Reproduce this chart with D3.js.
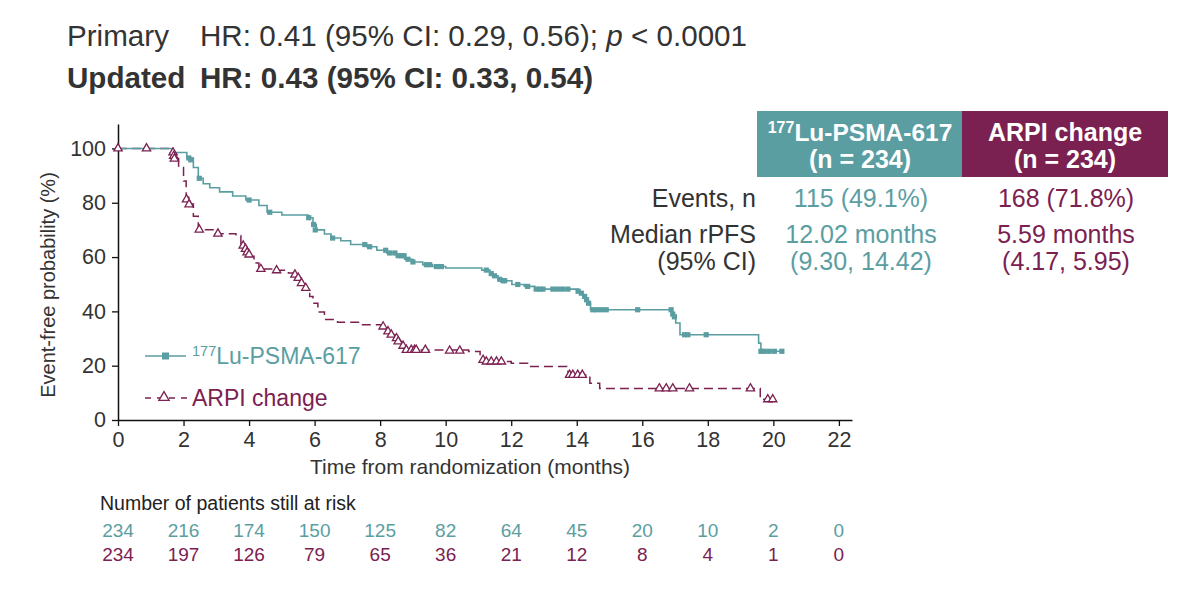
<!DOCTYPE html>
<html><head><meta charset="utf-8">
<script src="https://cdn.jsdelivr.net/npm/d3@7"></script>
<style>body{margin:0;background:#fff}svg{display:block;font-family:"Liberation Sans",Arial,sans-serif}</style>
</head><body><svg id="c" width="1200" height="590"></svg>
<script>
// ---------- data ----------
const xTicks = [0,2,4,6,8,10,12,14,16,18,20,22];
const yTicks = [0,20,40,60,80,100];
const luSteps = [[0,100],[1.65,98.5],[2.1,96.5],[2.3,93],[2.45,89],[2.6,87],[2.8,85.5],[3.1,84],[3.5,82.5],[3.9,81],[4.3,79],[4.55,76.5],[5.0,75.5],[5.8,74.5],[5.95,72],[6.05,70],[6.3,68.5],[6.5,67],[6.8,66],[7.1,64.6],[7.6,63.8],[7.9,62.5],[8.2,61.5],[8.5,60.5],[8.75,59.2],[9.0,58.2],[9.3,57.2],[9.6,56.5],[10.0,56],[11.1,55.2],[11.35,53.9],[11.45,53.1],[11.6,51.8],[11.75,51.3],[12.02,49.9],[12.4,49.2],[12.72,48.2],[14.05,47.4],[14.12,46.7],[14.2,45.5],[14.27,44.3],[14.33,43],[14.42,40.6],[16.9,39],[16.96,38],[17.02,35.7],[17.15,31.4],[19.55,28.3],[19.62,25.3],[20.3,25.3]];
const luCensor = [[2.16,96.5],[2.22,95.8],[2.48,89],[4.0,81],[4.63,76.5],[5.82,74.5],[5.97,72],[6.02,70],[6.55,67],[7.53,64.6],[7.68,63.8],[8.17,62.5],[8.29,61.5],[8.45,61.5],[8.55,60.5],[8.65,60.5],[8.73,60.5],[8.85,59.2],[9.0,58.2],[9.41,57.2],[9.51,57.2],[9.72,56.5],[9.87,56.5],[11.24,55.2],[11.39,53.9],[11.49,53.1],[11.65,51.8],[11.75,51.3],[11.8,51.3],[12.2,49.9],[12.5,49.2],[12.76,48.2],[12.87,48.2],[12.97,48.2],[13.27,48.2],[13.42,48.2],[13.57,48.2],[13.73,48.2],[14.04,47.4],[14.14,46.7],[14.24,45.5],[14.3,44.3],[14.36,43],[14.49,40.6],[14.6,40.6],[14.75,40.6],[14.9,40.6],[15.86,40.6],[16.88,40.6],[16.93,39],[16.98,38],[17.29,31.4],[17.39,31.4],[17.95,31.4],[19.62,25.3],[19.72,25.3],[19.87,25.3],[20.03,25.3],[20.26,25.3]];
const arSteps = [[0,100],[1.6,98.5],[1.72,97],[1.85,93],[2.0,88],[2.08,82],[2.16,79.5],[2.3,75],[2.45,70.1],[2.95,68.6],[3.6,67.9],[3.75,64.6],[3.85,63.5],[3.93,61.5],[4.0,60.3],[4.15,57.8],[4.3,55.6],[4.8,55.1],[5.2,54.1],[5.4,53.5],[5.5,52.3],[5.59,49.8],[5.7,48.2],[5.85,45.5],[5.95,43],[6.1,39.8],[6.3,37],[6.7,36],[7.4,35.1],[8.05,34.4],[8.2,32.6],[8.3,31.4],[8.45,30.1],[8.55,28.9],[8.65,27.3],[8.75,25.8],[10.7,25.2],[11.05,22.1],[11.2,21.5],[12.0,20.9],[12.5,19.7],[13.7,17.9],[13.75,16.6],[14.4,13.5],[14.7,11.6],[19.6,7.6],[20.0,7.6]];
const arCensor = [[0,100],[0.87,100],[1.68,98.5],[1.7,97.2],[1.72,96.2],[2.09,81.2],[2.17,79.4],[2.48,70.1],[3.05,68.6],[3.82,64.2],[3.89,63],[3.94,61.7],[4.0,60.9],[4.36,55.6],[4.84,55.1],[5.4,53.5],[5.5,52.3],[5.6,50.4],[5.73,48.6],[8.09,34.4],[8.24,32.6],[8.34,31.4],[8.5,30.1],[8.55,28.9],[8.7,27.3],[8.8,25.8],[8.95,25.8],[9.05,25.8],[9.1,25.8],[9.38,25.8],[10.12,25.5],[10.43,25.5],[11.14,22.1],[11.24,21.5],[11.39,21.5],[11.55,21.5],[11.7,21.5],[13.78,16.6],[13.88,16.6],[14.03,16.6],[14.17,16.6],[16.52,11.6],[16.73,11.6],[16.93,11.6],[17.44,11.6],[19.3,11.6],[19.83,7.6],[19.98,7.6]];
const luAtRisk = [234,216,174,150,125,82,64,45,20,10,2,0];
const arAtRisk = [234,197,126,79,65,36,21,12,8,4,1,0];
const armNames = ["Lu-PSMA-617","ARPI change"];
const events = ["115 (49.1%)","168 (71.8%)"];
const medians = ["12.02 months","5.59 months"];
const medianCI = ["(9.30, 14.42)","(4.17, 5.95)"];

// ---------- styles ----------
const TEAL = "#5b9ea2", MAG = "#7b2151", TXT = "#333";
const svg = d3.select("#c");
svg.append("rect").attr("width",1200).attr("height",590).attr("fill","#fff");

const x = d3.scaleLinear().domain([0,22.4]).range([118,852]);
const y = d3.scaleLinear().domain([0,109]).range([420,124]);

// titles
const t1 = svg.append("text").attr("y",46).attr("font-size",29.6).attr("fill",TXT);
t1.append("tspan").attr("x",67).text("Primary");
t1.append("tspan").attr("x",200).text("HR: 0.41 (95% CI: 0.29, 0.56); ");
t1.append("tspan").attr("font-style","italic").text("p");
t1.append("tspan").text(" < 0.0001");
const t2 = svg.append("text").attr("y",88).attr("font-size",29.6).attr("font-weight","bold").attr("fill",TXT);
t2.append("tspan").attr("x",67).text("Updated");
t2.append("tspan").attr("x",200).text("HR: 0.43 (95% CI: 0.33, 0.54)");

// axes
const gx = svg.append("g").attr("transform","translate(0,420)")
  .call(d3.axisBottom(x).tickValues(xTicks).tickSize(6).tickSizeOuter(0).tickPadding(6));
const gy = svg.append("g").attr("transform","translate(118,0)")
  .call(d3.axisLeft(y).tickValues(yTicks).tickSize(6).tickSizeOuter(0).tickPadding(6));
[gx,gy].forEach(g=>{
  g.select(".domain").attr("stroke","#111").attr("stroke-width",1.5);
  g.selectAll(".tick line").attr("stroke","#111").attr("stroke-width",1.3);
  g.selectAll(".tick text").attr("font-size",21.5).attr("fill",TXT).attr("font-family","Liberation Sans, Arial, sans-serif");
});
svg.append("text").attr("x",470).attr("y",474).attr("text-anchor","middle").attr("font-size",21).attr("fill",TXT)
  .text("Time from randomization (months)");
svg.append("text").attr("transform","translate(55,285) rotate(-90)").attr("text-anchor","middle").attr("font-size",20).attr("fill",TXT)
  .text("Event-free probability (%)");

// curves
const line = d3.line().x(d=>x(d[0])).y(d=>y(d[1])).curve(d3.curveStepAfter);
svg.append("path").datum(arSteps).attr("d",line).attr("fill","none").attr("stroke",MAG).attr("stroke-width",1.5).attr("stroke-dasharray","9,5");
svg.append("path").datum(luSteps).attr("d",line).attr("fill","none").attr("stroke",TEAL).attr("stroke-width",1.6);
svg.append("g").selectAll("rect").data(luCensor).join("rect")
  .attr("x",d=>x(d[0])-2.6).attr("y",d=>y(d[1])-2.6).attr("width",5.2).attr("height",5.2).attr("fill",TEAL);
const tri = d3.symbol().type(d3.symbolTriangle).size(30);
svg.append("g").selectAll("path").data(arCensor).join("path")
  .attr("transform",d=>`translate(${x(d[0])},${y(d[1])})`).attr("d",tri)
  .attr("fill","#fff").attr("stroke",MAG).attr("stroke-width",1.3);

// legend
svg.append("line").attr("x1",145).attr("x2",186).attr("y1",356).attr("y2",356).attr("stroke",TEAL).attr("stroke-width",1.6);
svg.append("rect").attr("x",162).attr("y",352.5).attr("width",7).attr("height",7).attr("fill",TEAL);
svg.append("line").attr("x1",145).attr("x2",188).attr("y1",398).attr("y2",398).attr("stroke",MAG).attr("stroke-width",1.5).attr("stroke-dasharray","6,6");
svg.append("path").attr("transform","translate(164,397.5)").attr("d",d3.symbol().type(d3.symbolTriangle).size(45)).attr("fill","#fff").attr("stroke",MAG).attr("stroke-width",1.3);
const l1 = svg.append("text").attr("x",192).attr("y",364).attr("font-size",23).attr("fill",TEAL);
l1.append("tspan").attr("font-size",14.5).attr("dy",-8).text("177");
l1.append("tspan").attr("dy",8).text(armNames[0]);
svg.append("text").attr("x",192).attr("y",406).attr("font-size",23).attr("fill",MAG).text(armNames[1]);

// table
const cx = [860,1065];
svg.append("rect").attr("x",757).attr("y",111).attr("width",205).attr("height",66).attr("fill",TEAL);
svg.append("rect").attr("x",962).attr("y",111).attr("width",206).attr("height",66).attr("fill",MAG);
const h1 = svg.append("text").attr("x",cx[0]).attr("y",141).attr("text-anchor","middle").attr("font-size",24.5).attr("font-weight","bold").attr("fill","#fff");
h1.append("tspan").attr("font-size",16).attr("dy",-8).text("177");
h1.append("tspan").attr("dy",8).text(armNames[0]);
svg.append("text").attr("x",cx[1]).attr("y",141).attr("text-anchor","middle").attr("font-size",25).attr("font-weight","bold").attr("fill","#fff").text(armNames[1]);
[0,1].forEach(i=>svg.append("text").attr("x",cx[i]).attr("y",168).attr("text-anchor","middle").attr("font-size",25).attr("font-weight","bold").attr("fill","#fff").text("(n = 234)"));
const rowLab = [["Events, n",207],["Median rPFS",243],["(95% CI)",270]];
rowLab.forEach(r=>svg.append("text").attr("x",756).attr("y",r[1]).attr("text-anchor","end").attr("font-size",25).attr("fill",TXT).text(r[0]));
[0,1].forEach(i=>{
  const c = i?MAG:TEAL;
  svg.append("text").attr("x",cx[i]+1).attr("y",207).attr("text-anchor","middle").attr("font-size",25).attr("fill",c).text(events[i]);
  svg.append("text").attr("x",cx[i]+1).attr("y",243).attr("text-anchor","middle").attr("font-size",25).attr("fill",c).text(medians[i]);
  svg.append("text").attr("x",cx[i]+1).attr("y",270).attr("text-anchor","middle").attr("font-size",25).attr("fill",c).text(medianCI[i]);
});

// at risk
svg.append("text").attr("x",100).attr("y",510).attr("font-size",19.5).attr("fill","#222").text("Number of patients still at risk");
[[luAtRisk,537,TEAL],[arAtRisk,561,MAG]].forEach(([arr,yy,c])=>{
  svg.append("g").selectAll("text").data(arr).join("text")
    .attr("x",(d,i)=>x(xTicks[i])).attr("y",yy).attr("text-anchor","middle").attr("font-size",19).attr("fill",c).text(d=>d);
});
</script></body></html>
